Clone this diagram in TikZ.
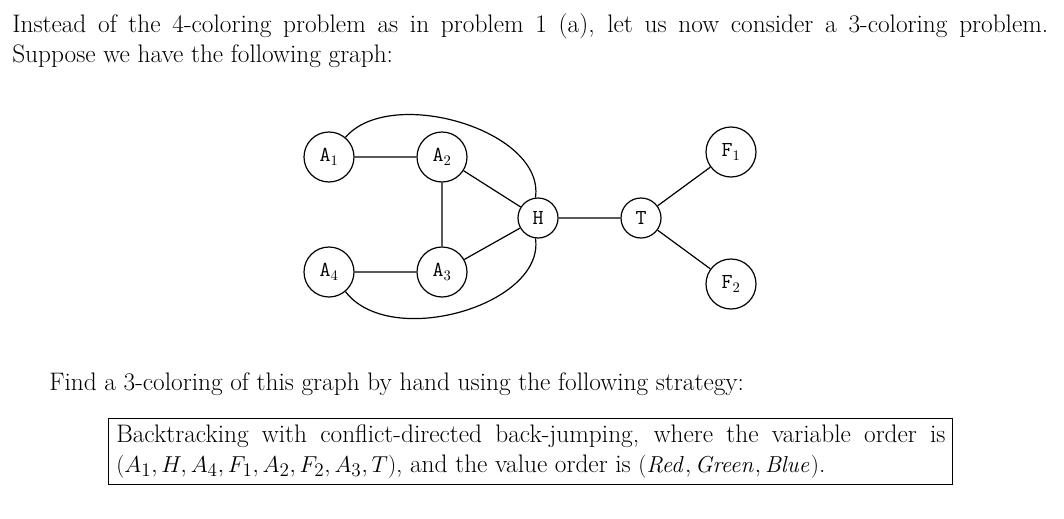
\documentclass[tikz,border=0pt]{standalone}
\begin{document}
\begin{tikzpicture}[x=0.75pt,y=-0.75pt,
  vert/.style={draw,circle,line width=0.9pt,minimum size=37.5pt,inner sep=0pt,font=\fontsize{16}{18}\selectfont\ttfamily},
  small/.style={vert,minimum size=30pt},
  edge/.style={line width=0.9pt},
  txt/.style={anchor=base west,inner sep=0pt,font=\fontsize{19}{22}\selectfont}]
\useasboundingbox (0,0) rectangle (1064,518);
\node[txt] (l1) at (12,32) {\hbox to 777pt{Instead of the 4-coloring problem as in problem 1 (a), let us now consider a 3-coloring problem.}};
\node[txt] (l2) at (12,62) {Suppose we have the following graph:};
\node[vert] (A1) at (329,157) {A$_1$};
\node[vert] (A2) at (442,157) {A$_2$};
\node[vert] (A3) at (442,272) {A$_3$};
\node[vert] (A4) at (329,272) {A$_4$};
\node[small] (H) at (538,218) {H};
\node[small] (T) at (641,218) {T};
\node[vert] (F1) at (731,152) {F$_1$};
\node[vert] (F2) at (731,284) {F$_2$};
\draw[edge] (A1)--(A2) (A4)--(A3) (A2)--(A3) (A2)--(H) (A3)--(H) (H)--(T) (T)--(F1) (T)--(F2);
\draw[edge] (A1.50) .. controls (390,85) and (545,130) .. (H.97);
\draw[edge] (A4.-50) .. controls (390,350) and (545,305) .. (H.-97);
\node[txt] (l3) at (49,390) {Find a 3-coloring of this graph by hand using the following strategy:};
\node[draw,line width=0.6pt,anchor=north west,inner sep=0pt,minimum width=633pt,minimum height=49.5pt] (box) at (108,418) {};
\node[txt] (b1) at (116,442) {\hbox to 622pt{Backtracking with conflict-directed back-jumping, where the variable order is}};
\node[txt] (b2) at (116,472) {$(A_1,H,A_4,F_1,A_2,F_2,A_3,T)$, and the value order is $(\mathit{Red},\mathit{Green},\mathit{Blue})$.};
\end{tikzpicture}
\end{document}
